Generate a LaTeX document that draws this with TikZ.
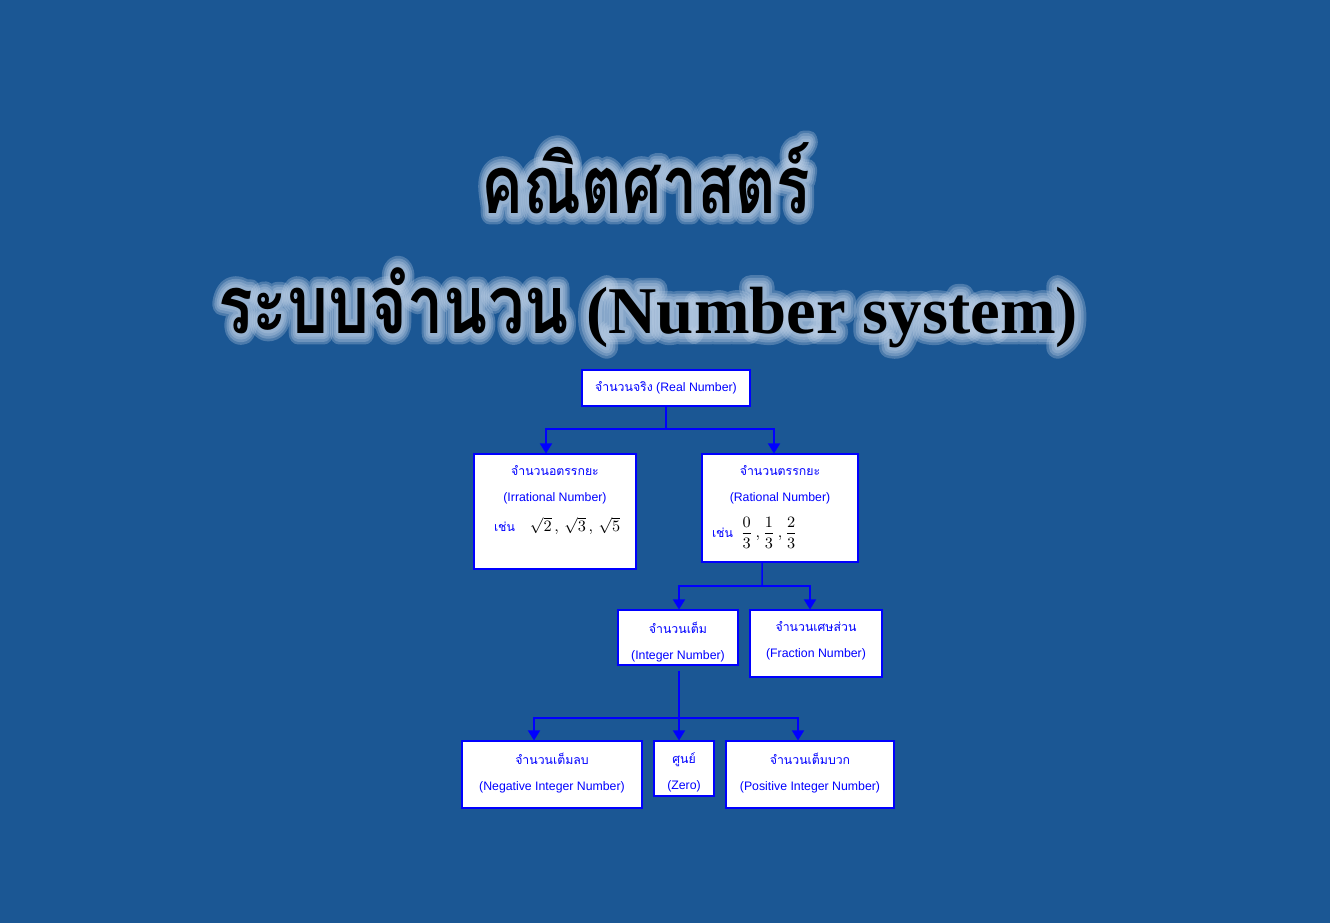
\documentclass[tikz,border=0pt]{standalone}
\usepackage{amsmath}
\usepackage{xcolor}
\usepackage{fontspec}
\setmainfont{Liberation Sans}
\newfontfamily\thaifont[Script=Thai]{Loma}
\newfontfamily\titlefont{Liberation Serif}
\usetikzlibrary{arrows.meta}

\definecolor{bgblue}{RGB}{27,87,148}
\definecolor{lineblue}{RGB}{0,0,255}
\definecolor{glowblue}{RGB}{190,208,230}

\newcommand{\thtxt}[1]{{\thaifont #1}}
\newcommand{\boxtxt}[3]{\parbox[c][#2][t]{#1}{\centering\fontsize{7}{14.8}\selectfont\vspace*{6.8pt}#3}}
\newcommand{\titleA}{\scalebox{0.775}[1]{\thaifont\bfseries\fontsize{46}{50}\selectfont คณิตศาสตร์}}
\newcommand{\titleB}{\scalebox{0.8}[1]{\thaifont\bfseries\fontsize{46}{50}\selectfont ระบบจำนวน}\hspace{0.36cm}{\titlefont\bfseries\fontsize{38}{42}\selectfont (Number system)}}
\newcommand{\glowtxt}[2]{\special{pdf:literal direct 1 j 1 J #1 w 1 Tr}#2\special{pdf:literal direct 0 Tr 1 w}}

\tikzset{
  numbox/.style={draw=lineblue, fill=white, line width=0.6pt, inner sep=0pt, text=lineblue},
  conn/.style={draw=lineblue, line width=0.85pt},
  arr/.style={conn, -{Triangle[length=0.2cm,width=0.24cm]}},
  titletxt/.style={anchor=base, inner sep=0pt}
}

\begin{document}
\begin{tikzpicture}[x=0.02cm, y=-0.02cm]
\useasboundingbox (0,0) rectangle (1330,923);
\fill[bgblue] (0,0) rectangle (1330,923);

\coordinate (t1) at (646,213);
\coordinate (t2) at (648,333);
\foreach \w in {13,10,7,4} {
  \node at (t1) [titletxt, text=glowblue, opacity=0.3] {\glowtxt{\w}{\titleA}};
  \node at (t2) [titletxt, text=glowblue, opacity=0.3] {\glowtxt{\w}{\titleB}};
}
\node (title1) at (t1) [titletxt, text=black] {\titleA};
\node (title2) at (t2) [titletxt, text=black] {\titleB};

\node (real) at (666,388) [numbox, minimum width=3.36cm, minimum height=0.72cm] {\fontsize{7}{9}\selectfont\thtxt{จำนวนจริง} (Real Number)};
\node (irr) at (555,511.5) [numbox] {\boxtxt{3.24cm}{2.30cm}{\thtxt{จำนวนอตรรกยะ}\\(Irrational Number)\par\vspace{2pt}
  \raggedright\hspace*{0.4cm}\thtxt{เช่น}\hspace{0.3cm}{\color{black}\fontsize{9}{10}\selectfont$\sqrt{2}\,,\,\sqrt{3}\,,\,\sqrt{5}$}}};
\node (rat) at (780,508) [numbox] {\boxtxt{3.12cm}{2.16cm}{\thtxt{จำนวนตรรกยะ}\\(Rational Number)\par\vspace{5.5pt}
  \raggedright\hspace*{0.2cm}\thtxt{เช่น}\hspace{0.15cm}{\color{black}\fontsize{9}{10}\selectfont$\dfrac{0}{3}\,,\dfrac{1}{3}\,,\dfrac{2}{3}$}}};
\node (int) at (678,637.5) [numbox] {\boxtxt{2.40cm}{1.10cm}{\thtxt{จำนวนเต็ม}\\(Integer Number)}};
\node (frac) at (816,643.5) [numbox] {\boxtxt{2.64cm}{1.34cm}{\thtxt{จำนวนเศษส่วน}\\(Fraction Number)}};
\node (neg) at (552,774.5) [numbox] {\boxtxt{3.60cm}{1.34cm}{\thtxt{จำนวนเต็มลบ}\\(Negative Integer Number)}};
\node (zero) at (684,768.5) [numbox] {\boxtxt{1.20cm}{1.10cm}{\thtxt{ศูนย์}\\(Zero)}};
\node (pos) at (810,774.5) [numbox] {\boxtxt{3.36cm}{1.34cm}{\thtxt{จำนวนเต็มบวก}\\(Positive Integer Number)}};

\coordinate (j1) at (666,429);
\coordinate (j2) at (762,586);
\coordinate (j3) at (679,718);
\draw[conn] (real) -- (j1);
\draw[arr] (j1) -| ([xshift=-0.18cm]irr.north);
\draw[arr] (j1) -| ([xshift=-0.12cm]rat.north);
\draw[conn] ([xshift=-0.36cm]rat.south) -- (j2);
\draw[arr] (j2) -| ([xshift=0.02cm]int.north);
\draw[arr] (j2) -| ([xshift=-0.12cm]frac.north);
\draw[conn] ([xshift=0.02cm,yshift=-0.1cm]int.south) -- (j3);
\draw[arr] (j3) -| ([xshift=-0.36cm]neg.north);
\draw[arr] (j3) -| ([xshift=-0.1cm]zero.north);
\draw[arr] (j3) -| ([xshift=-0.24cm]pos.north);
\end{tikzpicture}
\end{document}
